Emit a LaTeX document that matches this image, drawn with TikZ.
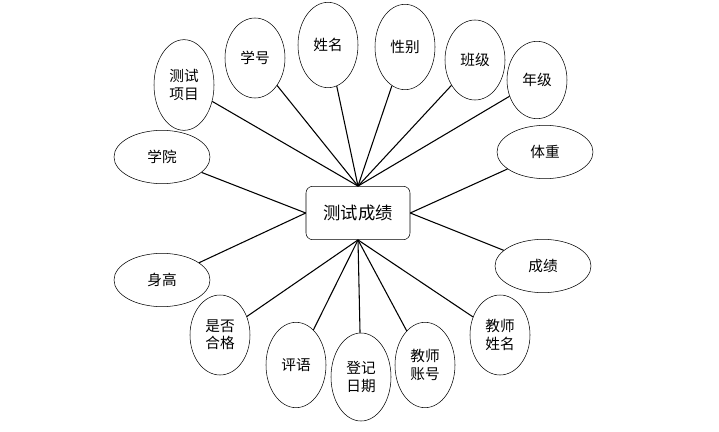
\documentclass[tikz,border=0pt]{standalone}
\usepackage{fontspec}
\setmainfont{Noto Sans CJK SC}
\usetikzlibrary{shapes.geometric}
\begin{document}
\begin{tikzpicture}[x=0.75pt,y=-0.75pt,
  attr/.style={draw,ellipse,inner sep=0pt,font=\fontsize{11}{13}\selectfont,align=center},
  vert/.style={attr,minimum width=45pt,minimum height=64pt},
  hor/.style={attr,minimum width=72pt,minimum height=40pt},
  ent/.style={draw,rounded corners=5pt,minimum width=78pt,minimum height=40pt,font=\fontsize{13}{15}\selectfont},
  conn/.style={draw,line width=0.8pt}]
\useasboundingbox (0,0) rectangle (719,432);
\node[ent] (c) at (358,213) {测试成绩};
\node[vert,minimum height=68pt] (a1) at (184,85) {测试\\项目};
\node[vert,minimum height=60pt] (a2) at (255,58) {学号};
\node[vert] (a3) at (328,45) {姓名};
\node[vert] (a4) at (405,47) {性别};
\node[vert,minimum height=60pt] (a5) at (475,60) {班级};
\node[vert,minimum height=58pt] (a6) at (537,80) {年级};
\node[hor] (a7) at (545,152) {体重};
\node[hor] (a8) at (162,157) {学院};
\node[hor] (a9) at (543,266) {成绩};
\node[hor] (a10) at (162,280) {身高};
\node[vert,minimum height=60pt] (b1) at (220,335) {是否\\合格};
\node[vert] (b2) at (296,365) {评语};
\node[vert,minimum height=66pt] (b3) at (361,377) {登记\\日期};
\node[vert] (b4) at (425,365) {教师\\账号};
\node[vert,minimum height=60pt] (b5) at (500,335) {教师\\姓名};
\foreach \n in {a1,a2,a3,a4,a5,a6} \draw[conn] (c.north) -- (\n);
\draw[conn] (c.east) -- (a7);
\draw[conn] (c.east) -- (a9);
\draw[conn] (c.west) -- (a8);
\draw[conn] (c.west) -- (a10);
\foreach \n in {b1,b2,b3,b4,b5} \draw[conn] (c.south) -- (\n);
\end{tikzpicture}
\end{document}
